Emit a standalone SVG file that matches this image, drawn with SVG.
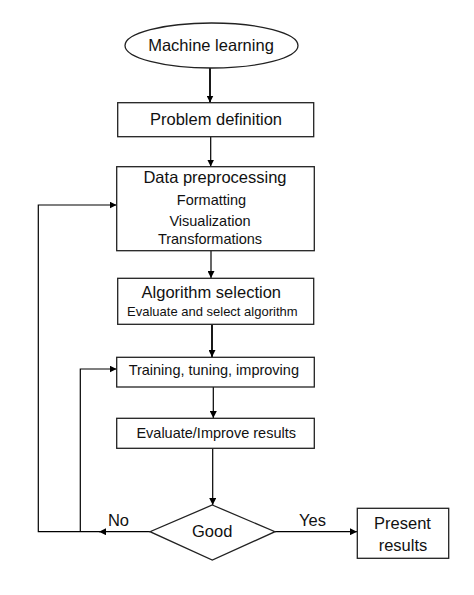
<svg xmlns="http://www.w3.org/2000/svg" width="474" height="595" viewBox="0 0 474 595">
<defs>
<marker id="ah" viewBox="0 0 10 10" refX="10" refY="5" markerWidth="7" markerHeight="7" orient="auto" markerUnits="userSpaceOnUse">
<path d="M0,0 L10,5 L0,10 z" fill="#000"/>
</marker>
</defs>
<style>
.box{fill:#fff;stroke:#222;stroke-width:1.3}
.ln{fill:none;stroke:#000;stroke-width:1.2}
.lnb{fill:none;stroke:#000;stroke-width:1.8}
text{font-family:"Liberation Sans",Arial,sans-serif;fill:#111;text-anchor:middle}
.t16{font-size:16.5px}
.t14{font-size:14.5px}
.t13{font-size:13px}
</style>
<rect width="474" height="595" fill="#fff"/>
<g id="connectors">
<line class="lnb" x1="210" y1="68" x2="210" y2="102.5" marker-end="url(#ah)"/>
<line class="ln" x1="210.7" y1="137" x2="210.7" y2="166.5" marker-end="url(#ah)"/>
<line class="ln" x1="211" y1="251" x2="211" y2="278" marker-end="url(#ah)"/>
<line class="lnb" x1="212" y1="324.5" x2="212" y2="357" marker-end="url(#ah)"/>
<line class="ln" x1="213.3" y1="387" x2="213.3" y2="418" marker-end="url(#ah)"/>
<line class="ln" x1="212.7" y1="448.5" x2="212.7" y2="505" marker-end="url(#ah)"/>
<line class="ln" x1="150" y1="531.7" x2="99" y2="531.7" marker-end="url(#ah)"/>
<polyline class="ln" points="100,531.7 38.3,531.7 38.3,205 116.5,205" marker-end="url(#ah)"/>
<polyline class="ln" points="80.3,531.7 80.3,369 116.5,369" marker-end="url(#ah)"/>
<line class="ln" x1="275" y1="531.7" x2="357" y2="531.7" marker-end="url(#ah)"/>
<text class="t16" x="118.5" y="525.5">No</text>
<text class="t16" x="312.5" y="525.5">Yes</text>
</g>
<g id="start">
<ellipse class="box" cx="211.5" cy="45.5" rx="86.5" ry="22.5"/>
<text class="t16" x="211" y="50.5">Machine learning</text>
</g>
<g id="problem">
<rect class="box" x="117.7" y="102.7" width="196" height="34"/>
<text class="t16" x="216" y="125">Problem definition</text>
</g>
<g id="preprocessing">
<rect class="box" x="116.7" y="166.7" width="197.6" height="84"/>
<text class="t16" x="215" y="183">Data preprocessing</text>
<text class="t14" x="211.5" y="205">Formatting</text>
<text class="t14" x="210" y="226">Visualization</text>
<text class="t14" x="210" y="244">Transformations</text>
</g>
<g id="algorithm">
<rect class="box" x="117.7" y="278.3" width="196" height="46"/>
<text class="t16" x="211.3" y="298.3">Algorithm selection</text>
<text class="t13" x="212.3" y="315.7">Evaluate and select algorithm</text>
</g>
<g id="training">
<rect class="box" x="116.7" y="357.3" width="197.6" height="29.7"/>
<text class="t14" x="213.8" y="375">Training, tuning, improving</text>
</g>
<g id="evaluate">
<rect class="box" x="116.7" y="418.3" width="197.6" height="30"/>
<text class="t14" x="216.2" y="438.3">Evaluate/Improve results</text>
</g>
<g id="good">
<polygon class="box" points="212.3,505 275,531.7 212.3,560 150,531.7"/>
<text class="t16" x="212.2" y="537">Good</text>
</g>
<g id="present">
<rect class="box" x="357.3" y="508.3" width="91.4" height="50"/>
<text class="t16" x="402.5" y="528.5">Present</text>
<text class="t16" x="403" y="551">results</text>
</g>
</svg>
